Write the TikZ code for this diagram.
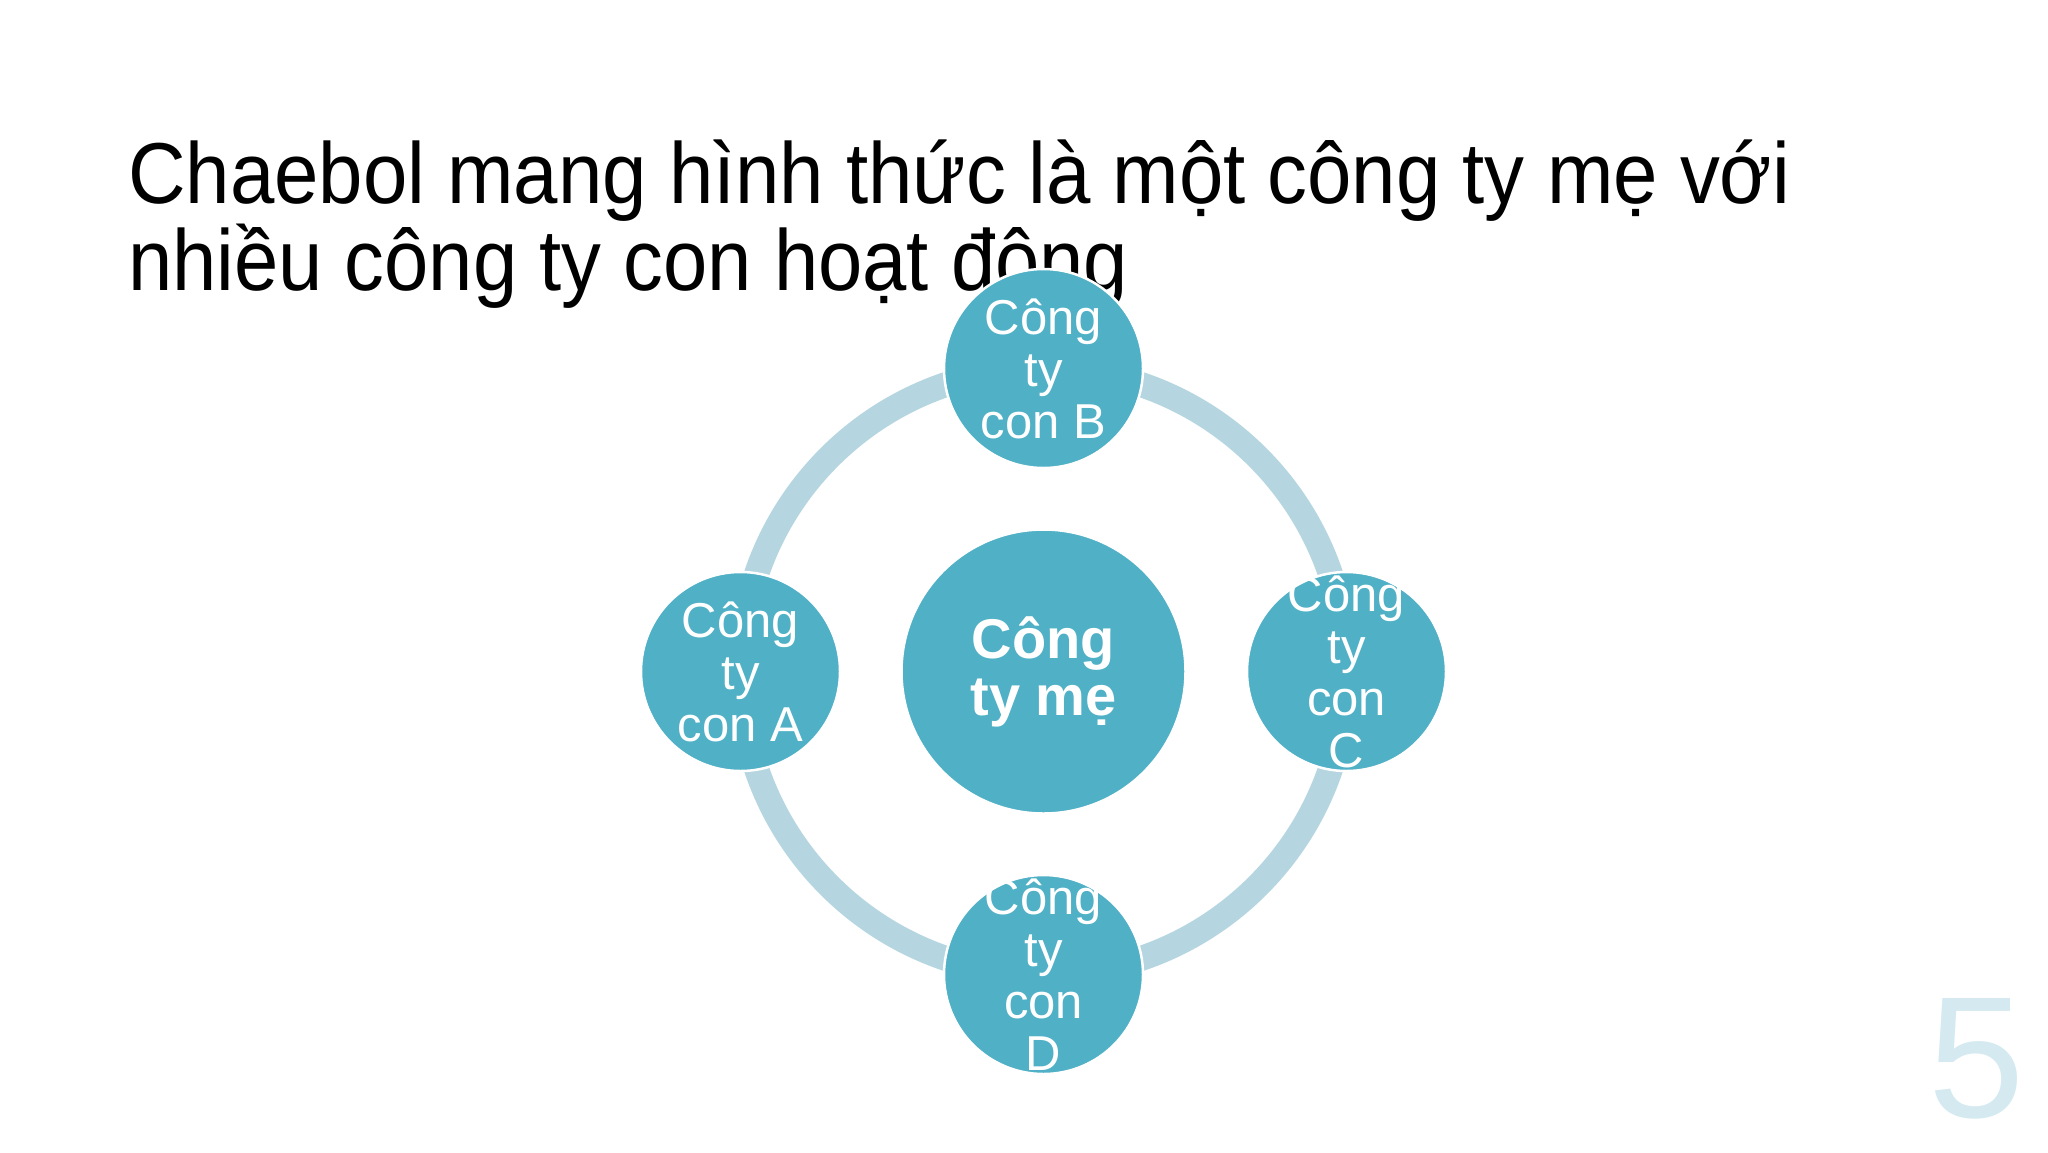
\documentclass[tikz,border=0pt]{standalone}
\usepackage{fontspec}
\setmainfont{Liberation Sans}
\usepackage{graphicx}
\definecolor{teal}{RGB}{79,176,198}
\definecolor{ringc}{RGB}{181,214,224}
\definecolor{numc}{RGB}{212,234,240}
\tikzset{
  sub/.style={circle, fill=teal, draw=white, line width=2.5pt, minimum size=199pt, inner sep=0pt},
  mother/.style={circle, fill=teal, draw=white, line width=2.5pt, minimum size=284pt, inner sep=0pt},
  subtext/.style={align=center, text=white, inner sep=0pt, font=\fontsize{49}{52}\selectfont},
  mothertext/.style={align=center, text=white, inner sep=0pt, font=\fontsize{56}{57}\selectfont\bfseries},
  ringline/.style={draw=ringc, line width=25pt},
  titletext/.style={anchor=base west, inner sep=0pt, font=\fontsize{86.5}{87}\selectfont},
}
\begin{document}
\begin{tikzpicture}[x=1pt, y=-1pt]
\useasboundingbox (0,0) rectangle (2048,1152);
\fill[white] (0,0) rectangle (2048,1152);
% title
\node[titletext] (t1) at (128,203) {\resizebox{1662pt}{\height}{Chaebol mang hình thức là một công ty mẹ với}};
\node[titletext] (t2) at (128,290) {\resizebox{1000pt}{\height}{nhiều công ty con hoạt động}};
% centre
\coordinate (M) at (1043.5,671.5);
\draw[ringline] (M) circle (303);
\node[mother] (mom) at (M) {};
\node[sub] (B) at (1043.5,368.5) {};
\node[sub] (A) at (740.5,671.5) {};
\node[sub] (C) at (1346.5,671.5) {};
\node[sub] (D) at (1043.5,974.5) {};
\node[mothertext] (momt) at (mom.center) {Công\\ty mẹ};
\node[subtext] (Bt) at (B.center) {Công\\ty\\con B};
\node[subtext] (At) at (A.center) {Công\\ty\\con A};
\node[subtext] (Ct) at (C.center) {Công\\ty\\con\\C};
\node[subtext] (Dt) at (D.center) {Công\\ty\\con\\D};
% page number
\node[anchor=base west, inner sep=0pt, text=numc, font=\fontsize{173}{173}\selectfont] (num) at (1928,1117) {5};
\end{tikzpicture}
\end{document}
